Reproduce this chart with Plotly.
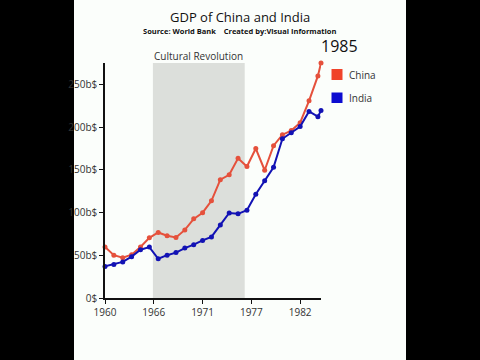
import plotly.graph_objects as go

# ---- data (World Bank GDP, billions of current US$) ----
years = [1960, 1961, 1962, 1963, 1964, 1965, 1966, 1967, 1968, 1969,
         1970, 1971, 1972, 1973, 1974, 1975, 1976, 1977, 1978, 1979,
         1980, 1981, 1982, 1983, 1984, 1984.35]
china = [59.7, 50.1, 47.2, 50.7, 59.7, 70.4, 76.7, 72.9, 70.8, 79.7,
         92.6, 99.8, 113.7, 138.5, 144.2, 163.4, 153.9, 174.9, 149.5, 178.3,
         191.1, 195.9, 205.1, 230.7, 259.9, 275.0]
india = [37.0, 39.2, 42.2, 48.4, 56.5, 59.6, 45.9, 50.1, 53.1, 58.4,
         62.4, 67.4, 71.5, 85.5, 99.5, 98.5, 102.7, 121.5, 137.3, 153.0,
         186.3, 193.5, 200.7, 218.3, 212.2, 219.3]

x_tickvals = [1960, 1965.5, 1971, 1976.5, 1982]
x_ticktext = ["1960", "1966", "1971", "1977", "1982"]
y_tickvals = [0, 50, 100, 150, 200, 250]
y_ticktext = ["0$", "50b$", "100b$", "150b$", "200b$", "250b$"]

cr_start, cr_end = 1965.4, 1975.75
current_year_label = "1985"

CHINA_COLOR = "#e5513c"
INDIA_COLOR = "#1212b4"
FONT = "Open Sans"

fig = go.Figure()
fig.add_trace(go.Scatter(x=years, y=china, mode="lines+markers", name="China",
                         line=dict(color=CHINA_COLOR, width=2),
                         marker=dict(size=5, color=CHINA_COLOR),
                         cliponaxis=False, showlegend=False))
fig.add_trace(go.Scatter(x=years, y=india, mode="lines+markers", name="India",
                         line=dict(color=INDIA_COLOR, width=2),
                         marker=dict(size=5, color=INDIA_COLOR),
                         cliponaxis=False, showlegend=False))

W, H = 480, 360
ml, mr, mt, mb = 105, 159, 63, 62
pw, ph = W - ml - mr, H - mt - mb


def px(xp):
    return (xp - ml) / pw


def py(yp):
    return (H - mb - yp) / ph


shapes = [
    # white video panel
    dict(type="rect", xref="paper", yref="paper", x0=px(74), x1=px(406),
         y0=py(360), y1=py(0), fillcolor="#fbfefb", line_width=0, layer="below"),
    # cultural revolution shading
    dict(type="rect", xref="x", yref="paper", x0=cr_start, x1=cr_end,
         y0=0, y1=1, fillcolor="#dcdfdb", line_width=0, layer="below"),
    # legend swatches
    dict(type="rect", xref="paper", yref="paper", x0=px(331.5), x1=px(342.5),
         y0=py(80), y1=py(69), fillcolor="#f0432a", line_width=0),
    dict(type="rect", xref="paper", yref="paper", x0=px(331.5), x1=px(342.5),
         y0=py(103), y1=py(92.5), fillcolor="#0c0cd0", line_width=0),
]

annotations = [
    dict(text="GDP of China and India", xref="paper", yref="paper",
         x=px(239.5), y=py(17), xanchor="center", yanchor="middle",
         showarrow=False, font=dict(family=FONT, size=13, color="#111")),
    dict(text="<b>Source: World Bank    Created by:Visual Information</b>",
         xref="paper", yref="paper", x=px(239.5), y=py(31),
         xanchor="center", yanchor="middle", showarrow=False,
         font=dict(family=FONT, size=7.5, color="#111")),
    dict(text=current_year_label, xref="paper", yref="paper", x=px(339), y=py(46),
         xanchor="center", yanchor="middle", showarrow=False,
         font=dict(family=FONT, size=16, color="#111")),
    dict(text="Cultural Revolution", xref="x", yref="paper", x=cr_end, y=py(56),
         xanchor="right", yanchor="middle", showarrow=False,
         font=dict(family=FONT, size=10, color="#333")),
    dict(text="China", xref="paper", yref="paper", x=px(347), y=py(74.5),
         xanchor="left", yanchor="middle", showarrow=False,
         font=dict(family=FONT, size=10, color="#333")),
    dict(text="India", xref="paper", yref="paper", x=px(347), y=py(98),
         xanchor="left", yanchor="middle", showarrow=False,
         font=dict(family=FONT, size=10, color="#333")),
]

fig.update_layout(
    width=W, height=H,
    margin=dict(l=ml, r=mr, t=mt, b=mb, pad=0),
    paper_bgcolor="#000000",
    plot_bgcolor="rgba(0,0,0,0)",
    shapes=shapes, annotations=annotations,
    font=dict(family=FONT, size=10, color="#333"),
    xaxis=dict(range=[1960, years[-1]], tickvals=x_tickvals, ticktext=x_ticktext,
               showgrid=False, zeroline=False, showline=True, linecolor="#111",
               linewidth=1.5, ticks="outside", ticklen=4, tickcolor="#111",
               tickfont=dict(family=FONT, size=10, color="#333")),
    yaxis=dict(range=[0, 275], tickvals=y_tickvals, ticktext=y_ticktext,
               showgrid=False, zeroline=False, showline=True, linecolor="#111",
               linewidth=1.5, ticks="outside", ticklen=4, tickcolor="#111",
               tickfont=dict(family=FONT, size=10, color="#333")),
)

fig.write_html(
    "out.html",
    config={"displayModeBar": False},
    post_script="document.body.style.margin='0';document.body.style.overflow='hidden';document.body.style.background='#000';",
)
